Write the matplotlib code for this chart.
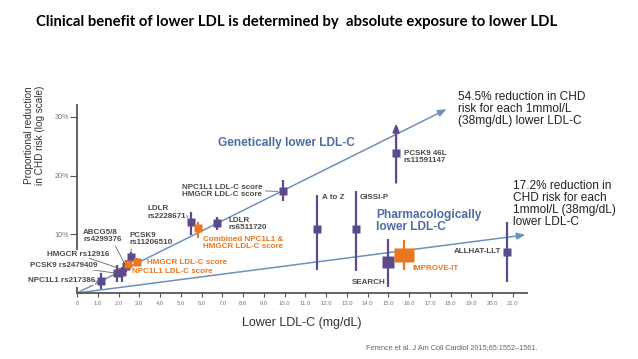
import matplotlib
matplotlib.use("Agg")
import matplotlib.pyplot as plt
import numpy as np
from matplotlib.path import Path

# ---------------- data ----------------
# Genetic variants (purple)
gen_names = ["NPC1L1 rs217386", "PCSK9 rs2479409", "HMGCR rs12916", "ABCG5/8 rs4299376",
             "PCSK9 rs11206510", "LDLR rs2228671", "LDLR rs6511720",
             "NPC1L1 + HMGCR LDL-C score", "PCSK9 46L rs11591147"]
gen_x = [1.14, 1.94, 2.18, 2.35, 2.58, 5.48, 6.73, 9.94, 15.37]
gen_y = [2.0, 3.35, 3.6, 4.6, 6.1, 12.1, 11.9, 17.3, 23.8]
gen_lo = [0.7, 1.9, 1.9, 3.6, 5.2, 9.9, 10.7, 15.6, 18.8]
gen_hi = [3.4, 4.8, 4.5, 5.6, 7.0, 13.8, 13.0, 19.3, 28.9]

# Genetic scores (orange)
score_names = ["NPC1L1 LDL-C score", "HMGCR LDL-C score", "Combined NPC1L1 & HMGCR LDL-C score"]
score_x = [2.44, 2.87, 5.84]
score_y = [4.9, 5.3, 11.0]
score_lo = [4.0, 4.6, 9.4]
score_hi = [5.6, 6.0, 12.1]

# Trials (purple)
trial_names = ["A to Z", "GISSI-P", "SEARCH", "ALLHAT-LLT"]
trial_x = [11.55, 13.44, 14.96, 20.7]
trial_y = [10.85, 10.85, 5.3, 7.0]
trial_lo = [3.9, 3.8, 1.1, 1.9]
trial_hi = [16.7, 17.3, 9.2, 12.1]

# IMPROVE-IT (orange)
imp_x = [15.77]
imp_y = [6.5]
imp_lo = [3.9]
imp_hi = [9.0]

# Regression lines (start, end)
genetic_line_x = [0, 17.8]
genetic_line_y = [0, 31.3]
pharm_line_x = [0, 21.6]
pharm_line_y = [0, 9.9]

x_ticks = list(range(0, 22))
x_tick_labels = ["0"] + [f"{v}.0" for v in range(1, 22)]
y_ticks = [10, 20, 30]
y_tick_labels = ["10%", "20%", "30%"]

# ---------------- style ----------------
PURPLE = "#5B4A8C"
ORANGE = "#E8771F"
LINE = "#7090B8"
BLUE_TXT = "#4C6EA3"
GRAY = "#4A4A4A"
plt.rcParams['font.family'] = ['Liberation Sans', 'DejaVu Sans']

fig = plt.figure(figsize=(6.38, 3.59), dpi=100)
W, H = 638, 359
x0p, y0p = 77, 293
pxx, pxy = 20.76, 5.87
xmax, ymax = 21.7, 32
ax = fig.add_axes([x0p / W, (H - y0p) / H, xmax * pxx / W, ymax * pxy / H])
ax.set_xlim(0, xmax)
ax.set_ylim(0, ymax)
ax.set_facecolor("none")

for s in ["top", "right"]:
    ax.spines[s].set_visible(False)
ax.spines["bottom"].set_color("#555555")
ax.spines["bottom"].set_linewidth(1.3)
ax.spines["left"].set_color("#555555")
ax.spines["left"].set_linewidth(1.3)
ax.spines["left"].set_bounds(7.3, ymax)
ax.plot([0, 0], [0, 1.0], color="#555555", lw=1.3, clip_on=False, solid_capstyle="butt")

ax.set_xticks(x_ticks)
ax.set_xticklabels(x_tick_labels, fontsize=4.2, color="#777777")
ax.set_yticks(y_ticks)
ax.set_yticklabels(y_tick_labels, fontsize=5.2, color="#777777")
ax.tick_params(axis="x", length=3, width=0.8, color="#555555", pad=3)
ax.tick_params(axis="y", length=5, width=0.8, color="#555555", pad=1)

ax.set_xlabel("Lower LDL-C (mg/dL)", fontsize=9, color="#333333", labelpad=8)
ax.set_ylabel("Proportional reduction\nin CHD risk (log scale)", fontsize=7.2, color="#333333",
              linespacing=1.15)
ax.yaxis.set_label_coords(-0.07, 0.84)

# regression lines with arrow heads
ax.annotate("", xy=(genetic_line_x[1], genetic_line_y[1]), xytext=(genetic_line_x[0], genetic_line_y[0]),
            arrowprops=dict(arrowstyle="-|>,head_length=0.5,head_width=0.2", color=LINE, lw=1.1,
                            shrinkA=0, shrinkB=0), annotation_clip=False, zorder=2)
ax.annotate("", xy=(pharm_line_x[1], pharm_line_y[1]), xytext=(pharm_line_x[0], pharm_line_y[0]),
            arrowprops=dict(arrowstyle="-|>,head_length=0.5,head_width=0.2", color=LINE, lw=1.1,
                            shrinkA=0, shrinkB=0), annotation_clip=False, zorder=2)

# error bars
def bars(xs, lo, hi, color, lw=1.6):
    ax.vlines(xs, lo, hi, color=color, lw=lw, zorder=3)

bars(gen_x[:-1], gen_lo[:-1], gen_hi[:-1], PURPLE)
ax.annotate("", xy=(gen_x[-1], gen_hi[-1]), xytext=(gen_x[-1], gen_lo[-1]),
            arrowprops=dict(arrowstyle="-|>,head_length=0.45,head_width=0.18", color=PURPLE, lw=1.6,
                            shrinkA=0, shrinkB=0), zorder=3)
bars(trial_x, trial_lo, trial_hi, PURPLE)
bars(score_x, score_lo, score_hi, ORANGE)
bars(imp_x, imp_lo, imp_hi, ORANGE)

ax.plot(gen_x, gen_y, "s", color=PURPLE, ms=5.2, mec="none", zorder=4)
ax.plot(score_x, score_y, "s", color=ORANGE, ms=5.6, mec="none", zorder=5)
ax.plot(trial_x[:2] + trial_x[3:], trial_y[:2] + trial_y[3:], "s", color=PURPLE, ms=5.2, mec="none", zorder=4)
ax.plot(trial_x[2:3], trial_y[2:3], "s", color=PURPLE, ms=8.5, mec="none", zorder=4)
rect = Path([(-1, -0.72), (1, -0.72), (1, 0.72), (-1, 0.72), (-1, -0.72)],
            [Path.MOVETO, Path.LINETO, Path.LINETO, Path.LINETO, Path.CLOSEPOLY])
ax.plot(imp_x, imp_y, marker=rect, color=ORANGE, ms=14, mec="none", ls="none", zorder=5)

# labels
lab = dict(fontsize=5.8, color=GRAY, fontweight="bold", va="center", linespacing=1.08, zorder=6)
lead = dict(arrowstyle="-", color="#666666", lw=0.6, shrinkA=0, shrinkB=1)
wbox = dict(facecolor="white", edgecolor="none", pad=0.3)

ax.annotate("NPC1L1 rs217386", xy=(gen_x[0], gen_y[0]), xytext=(0.87, 2.1), ha="right",
            arrowprops=lead, bbox=wbox, annotation_clip=False, **lab)
ax.annotate("PCSK9 rs2479409", xy=(gen_x[1], gen_y[1]), xytext=(1.0, 4.6), ha="right",
            arrowprops=lead, bbox=wbox, annotation_clip=False, **lab)
ax.annotate("HMGCR rs12916", xy=(gen_x[2], gen_y[2] + 0.4), xytext=(1.54, 6.6), ha="right",
            arrowprops=lead, bbox=wbox, annotation_clip=False, **lab)
ax.annotate("ABCG5/8\nrs4299376", xy=(gen_x[3], gen_y[3]), xytext=(0.3, 9.7), ha="left",
            arrowprops=dict(lead, relpos=(0.8, 0.0)), annotation_clip=False, **lab)
ax.annotate("PCSK9\nrs11206510", xy=(gen_x[4], gen_y[4]), xytext=(2.52, 9.2), ha="left",
            arrowprops=dict(lead, relpos=(0.05, 0.0)), annotation_clip=False, **lab)
ax.text(3.36, 5.16, "HMGCR LDL-C score", ha="left", **dict(lab, color=ORANGE))
ax.text(2.63, 3.63, "NPC1L1 LDL-C score", ha="left", **dict(lab, color=ORANGE))
ax.annotate("LDLR\nrs2228671", xy=(gen_x[5] - 0.1, gen_y[5] + 0.6), xytext=(3.42, 13.7), ha="left",
            arrowprops=dict(lead, relpos=(1.0, 0.3)), annotation_clip=False, **lab)
ax.text(6.07, 8.5, "Combined NPC1L1 &\nHMGCR LDL-C score", ha="left", **dict(lab, color=ORANGE))
ax.text(7.32, 11.75, "LDLR\nrs6511720", ha="left", **lab)
ax.annotate("NPC1L1 LDL-C score\nHMGCR LDL-C score", xy=(gen_x[7] - 0.2, gen_y[7]), xytext=(5.06, 17.4),
            ha="left", arrowprops=dict(lead, relpos=(1.0, 0.5)), **lab)
ax.text(11.8, 16.35, "A to Z", ha="left", **lab)
ax.text(13.63, 16.35, "GISSI-P", ha="left", **lab)
ax.text(14.84, 1.85, "SEARCH", ha="right", **lab)
ax.text(16.14, 4.25, "IMPROVE-IT", ha="left", **dict(lab, color=ORANGE))
ax.text(15.75, 23.2, "PCSK9 46L\nrs11591147", ha="left", **lab)
ax.text(20.45, 7.0, "ALLHAT-LLT", ha="right", **lab)

# big annotations
ax.text(10.1, 25.5, "Genetically lower LDL-C", fontsize=8.6, color=BLUE_TXT, fontweight="bold",
        ha="center", va="center")
ax.text(14.4, 12.3, "Pharmacologically\nlower LDL-C", fontsize=8.6, color=BLUE_TXT, fontweight="bold",
        ha="left", va="center", linespacing=1.0)
ax.text(18.35, 31.4, "54.5% reduction in CHD\nrisk for each 1mmol/L\n(38mg/dL) lower LDL-C",
        fontsize=8.6, color="#222222", ha="left", va="center", linespacing=1.0)
ax.text(21.0, 15.2, "17.2% reduction in\nCHD risk for each\n1mmol/L (38mg/dL)\nlower LDL-C",
        fontsize=8.6, color="#222222", ha="left", va="center", linespacing=1.0)

fig.text(297 / W, 1 - 22 / H, "Clinical benefit of lower LDL is determined by  absolute exposure to lower LDL",
         fontsize=10.7, fontweight="bold", family=["Lato", "DejaVu Sans"], ha="center", va="center",
         color="black")
fig.text(366 / W, 1 - 348 / H, "Ference et al. J Am Coll Cardiol 2015;65:1552\u20131561.",
         fontsize=5.3, color="#666666", ha="left", va="center")

fig.savefig("out.png", dpi=100)
